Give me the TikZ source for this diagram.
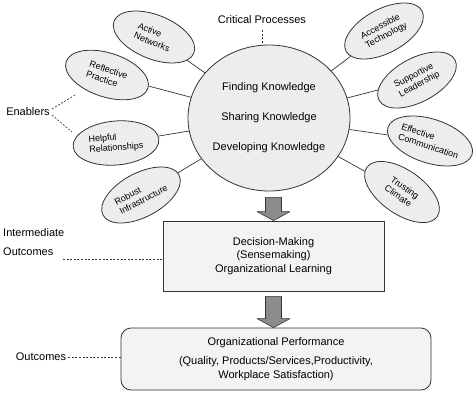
\documentclass[tikz,border=0pt]{standalone}
\usepackage{fontspec}
\setmainfont{Liberation Sans}
\usetikzlibrary{calc, shapes.geometric}
\definecolor{km-ink}{HTML}{333333}
\definecolor{km-fill}{HTML}{EDEDED}
\definecolor{km-box}{HTML}{F3F3F3}
\definecolor{km-arrow}{HTML}{8C8C8C}

\begin{document}
\begin{tikzpicture}[x=1pt, y=1pt, line join=round,
  link/.style={km-ink, line width=0.7pt},
  dashlink/.style={km-ink, line width=0.6pt, dash pattern=on 2pt off 1.6pt},
  enabler/.style={ellipse, draw=km-ink, line width=0.8pt, fill=km-fill,
    minimum width=86pt, minimum height=44pt, inner sep=0pt, align=left,
    font=\fontsize{9}{10.5}\selectfont},
  stage/.style={draw=km-ink, line width=0.8pt, fill=km-box, align=center,
    font=\fontsize{11}{13.5}\selectfont},
  label/.style={font=\fontsize{11}{13}\selectfont, inner sep=2pt},
  blockarrow/.style={fill=km-arrow, draw=km-ink, line width=0.6pt}]
  \useasboundingbox (0,0) rectangle (474,-405);
  % kritiske processer
  \node[ellipse, draw=km-ink, line width=0.8pt, fill=km-fill, minimum width=162pt,
    minimum height=146pt, inner sep=0pt, align=center,
    font=\fontsize{11}{30}\selectfont] (proc) at (269,-118)
    {Finding Knowledge\\Sharing Knowledge\\Developing Knowledge};
  \node[label] (cp) at (262,-20) {Critical Processes};
  \draw[dashlink] ([yshift=-4pt]cp.south) -- (cp.south |- proc.north);
  % enablers rundt om
  \foreach \nm/\px/\py/\ang/\txt in {
    an/154/37/-22/{Active\\Networks},
    rp/107/75/-18/{Reflective\\Practice},
    hr/116/143/5/{Helpful\\Relationships},
    ri/141/195/28/{Robust\\Infrastructure},
    at/384/31/28/{Accessible\\Technology},
    sl/417/80/28/{Supportive\\Leadership},
    ec/430/141/-18/{Effective\\Communication},
    tc/402/192/-35/{Trusting\\Climate}}{
    \node[enabler, rotate=\ang] (\nm) at (\px,-\py) {\txt};
    \draw[link] (\nm) -- (proc);
  }
  \node[label] (en) at (28,-112) {Enablers};
  \coordinate (en1) at (75,-95);
  \coordinate (en2) at (72,-132);
  \draw[dashlink] ([yshift=3pt]en.east) -- (en1);
  \draw[dashlink] ([yshift=-3pt]en.east) -- (en2);
  % mellemliggende resultater
  \node[stage, minimum width=221pt, minimum height=70pt] (dm) at (273.5,-256)
    {Decision-Making\\(Sensemaking)\\Organizational Learning};
  \node[label, anchor=west, align=left, font=\fontsize{11}{19}\selectfont] (io)
    at (1,-242.5) {Intermediate\\Outcomes};
  \coordinate (ioend) at (63,-259);
  \draw[dashlink] (ioend) -- (ioend -| dm.west);
  % resultater
  \node[stage, rounded corners=10pt, minimum width=310pt, minimum height=62pt] (perf)
    at (276,-359) {Organizational Performance\\[6pt]
    (Quality, Products/Services,Productivity,\\Workplace Satisfaction)};
  \node[label] (oc) at (41,-357) {Outcomes};
  \draw[dashlink] (oc.east) -- (oc.east -| perf.west);
  % blokpile
  \coordinate (a1) at ($(dm.north |- proc.south)+(0,-6)$);
  \filldraw[blockarrow] ($(a1)+(-8,0)$) -- ($(dm.north)+(-8,9)$) -- ($(dm.north)+(-16.5,9)$)
    -- (dm.north) -- ($(dm.north)+(16.5,9)$) -- ($(dm.north)+(8,9)$) -- ($(a1)+(8,0)$) -- cycle;
  \coordinate (a2) at ($(dm.south)+(0,-5)$);
  \coordinate (t2) at (dm.south |- perf.north);
  \filldraw[blockarrow] ($(a2)+(-8,0)$) -- ($(t2)+(-8,9)$) -- ($(t2)+(-16.5,9)$)
    -- (t2) -- ($(t2)+(16.5,9)$) -- ($(t2)+(8,9)$) -- ($(a2)+(8,0)$) -- cycle;
\end{tikzpicture}
\end{document}
